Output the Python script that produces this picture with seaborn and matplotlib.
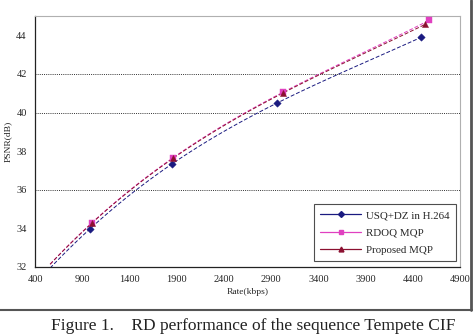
import matplotlib
matplotlib.use("Agg")
import matplotlib.pyplot as plt
from matplotlib.lines import Line2D
import seaborn as sns
import pandas as pd

# ---- data ----
series_names = ["USQ+DZ in H.264", "RDOQ MQP", "Proposed MQP"]
rate_usq = [981, 1848, 2958, 4490]
psnr_usq = [33.97, 37.33, 40.48, 43.90]
rate_rdoq = [1005, 1862, 3025, 4575]
psnr_rdoq = [34.30, 37.66, 41.05, 44.78]
rate_prop = [1002, 1859, 3021, 4533]
psnr_prop = [34.27, 37.62, 41.00, 44.57]
x_ticks = [400, 900, 1400, 1900, 2400, 2900, 3400, 3900, 4400, 4900]
y_ticks = [32, 34, 36, 38, 40, 42, 44]
grid_levels = [36, 40, 42]

colors = ["#1a1a80", "#e040c0", "#8b1030"]
markers = ["D", "s", "^"]
msizes = [3, 3.5, 3.5]

sns.set_theme(style="white")
plt.rcParams["font.family"] = ["Liberation Serif", "DejaVu Serif"]

fig = plt.figure(figsize=(4.74, 3.35), dpi=100)
ax = fig.add_axes([35 / 474, 1 - 267 / 335, (460 - 35) / 474, (267 - 16) / 335])

data = [(rate_usq, psnr_usq), (rate_rdoq, psnr_rdoq), (rate_prop, psnr_prop)]
handles = []
for (xs, ys), name, c, m, ms in zip(data, series_names, colors, markers, msizes):
    df = pd.DataFrame({"Rate": xs, "PSNR": ys})
    ax.set_xlim(560, max(xs))
    sns.regplot(data=df, x="Rate", y="PSNR", order=3, ci=None, truncate=False,
                scatter=False, ax=ax,
                line_kws={"color": c, "lw": 0.7, "ls": (0, (4, 2))})
    sns.scatterplot(data=df, x="Rate", y="PSNR", marker=m, color=c, s=ms ** 2 * 1.6,
                    edgecolor=c, linewidth=0.3, ax=ax, zorder=5, legend=False)
    handles.append(Line2D([], [], color=c, lw=0.9, marker=m, markersize=ms,
                          markeredgecolor=c, label=name))

ax.set_xlim(400, 4900)
ax.set_ylim(32, 45)
ax.set_xticks(x_ticks)
ax.set_yticks(y_ticks)
ax.set_xticklabels([str(t) for t in x_ticks], fontsize=7.5)
ax.set_yticklabels([str(t) for t in y_ticks], fontsize=7.5)
for g in grid_levels:
    ax.axhline(g, color="#333333", lw=0.7, ls=(0, (1.0, 1.2)), zorder=1)

ax.set_xlabel("Rate(kbps)", fontsize=6.8, labelpad=3)
ax.set_ylabel("PSNR(dB)", fontsize=6.8, labelpad=3)

for s in ["left", "bottom"]:
    ax.spines[s].set_color("#222222")
    ax.spines[s].set_linewidth(0.9)
for s in ["top", "right"]:
    ax.spines[s].set_color("#b0b0b0")
    ax.spines[s].set_linewidth(0.8)
ax.tick_params(axis="x", direction="in", length=3, width=0.7, color="#222222", pad=6)
ax.tick_params(axis="y", direction="out", length=3, width=0.7, color="#222222", pad=3)

leg = ax.legend(handles=handles, loc="lower right", bbox_to_anchor=(0.995, 0.015),
                fontsize=7.8, frameon=True, fancybox=False, handlelength=3.8,
                borderpad=0.6, labelspacing=0.7, handletextpad=0.4,
                borderaxespad=0.2)
leg.get_frame().set_edgecolor("#222222")
leg.get_frame().set_linewidth(0.8)

# outer frame and caption
fig.add_artist(Line2D([471 / 474, 471 / 474], [1, 1 - 310 / 335],
                      transform=fig.transFigure, color="#555555", lw=2))
fig.add_artist(Line2D([0, 472 / 474], [1 - 310 / 335, 1 - 310 / 335],
                      transform=fig.transFigure, color="#555555", lw=1.5))
fig.text(0.535, 1 - 333.5 / 335, "Figure 1.    RD performance of the sequence Tempete CIF",
         ha="center", va="bottom", fontsize=12.5, color="#222222")

fig.savefig("out.png", dpi=100)
